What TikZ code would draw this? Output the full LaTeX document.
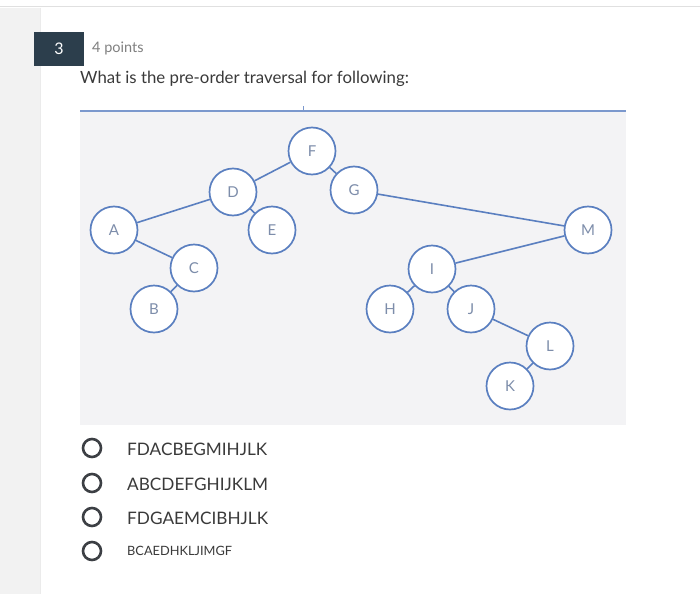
\documentclass[tikz,border=0pt]{standalone}
\usepackage{fontspec}
\setmainfont{Lato}
\newfontfamily\nodefont{Lato}
\definecolor{slate}{HTML}{2C3E4C}
\definecolor{nodeblue}{HTML}{5A7FC0}
\definecolor{lettercol}{HTML}{7D8DAA}
\definecolor{panel}{HTML}{F3F3F5}
\definecolor{txt}{HTML}{3A3A3A}
\definecolor{radio}{HTML}{3C3F44}
\begin{document}
\begin{tikzpicture}[x=1pt,y=-1pt,
  tnode/.style={circle,draw=nodeblue,line width=1.7pt,fill=white,minimum size=47pt,inner sep=0pt,font=\nodefont\fontsize{15}{15}\selectfont,text=lettercol},
  tedge/.style={draw=nodeblue,line width=1.6pt},
  radiobtn/.style={circle,draw=radio,line width=2.6pt,minimum size=18pt,inner sep=0pt},
  opt/.style={anchor=west,text=txt,inner sep=0pt}]
\useasboundingbox (0,0) rectangle (700,594);
\fill[white] (0,0) rectangle (700,594);
% left strip and top rule
\fill[black!5] (0,8) rectangle (40,594);
\draw[black!12,line width=1pt] (0,7) -- (700,7);
\draw[black!8,line width=0.6pt] (40,8) -- (40,594);
% question number
\node[fill=slate,minimum width=50pt,minimum height=34pt,inner sep=0pt,text=white,font=\fontsize{16}{16}\selectfont] (num) at (59,49) {3};
\node[anchor=west,inner sep=0pt,text=black!50,font=\fontsize{14.5}{14.5}\selectfont] (pts) at (92,48) {4 points};
\node[anchor=west,inner sep=0pt,text=txt,font=\fontsize{16.8}{16.8}\selectfont] (q) at (80,79) {What is the pre-order traversal for following:};
% panel
\fill[panel] (80,111) rectangle (626,425);
\draw[nodeblue!80,line width=1.6pt] (80,111) -- (626,111);
\draw[nodeblue!80,line width=1pt] (303,106) -- (303,111);
% nodes
\node[tnode] (F) at (312,151) {F};
\node[tnode] (D) at (233,192) {D};
\node[tnode] (G) at (354,190) {G};
\node[tnode] (A) at (114,230) {A};
\node[tnode] (E) at (272,230) {E};
\node[tnode] (M) at (588,230) {M};
\node[tnode] (C) at (194,268) {C};
\node[tnode] (I) at (432,269) {I};
\node[tnode] (B) at (154,309) {B};
\node[tnode] (H) at (390,309) {H};
\node[tnode] (J) at (471,309) {J};
\node[tnode] (L) at (550,346) {L};
\node[tnode] (K) at (510,386) {K};
\draw[tedge] (F) -- (D);
\draw[tedge] (F) -- (G);
\draw[tedge] (D) -- (A);
\draw[tedge] (D) -- (E);
\draw[tedge] (A) -- (C);
\draw[tedge] (C) -- (B);
\draw[tedge] (G) -- (M);
\draw[tedge] (M) -- (I);
\draw[tedge] (I) -- (H);
\draw[tedge] (I) -- (J);
\draw[tedge] (J) -- (L);
\draw[tedge] (L) -- (K);
% options
\node[radiobtn] (r1) at (92,448) {};
\node[radiobtn] (r2) at (92,483) {};
\node[radiobtn] (r3) at (92,517) {};
\node[radiobtn] (r4) at (92,551) {};
\node[opt,font=\fontsize{17.2}{17.2}\selectfont] (o1) at (127,449) {FDACBEGMIHJLK};
\node[opt,font=\fontsize{17.2}{17.2}\selectfont] (o2) at (127,484) {ABCDEFGHIJKLM};
\node[opt,font=\fontsize{17.2}{17.2}\selectfont] (o3) at (127,518) {FDGAEMCIBHJLK};
\node[opt,font=\fontsize{12.8}{12.8}\selectfont] (o4) at (127,551) {BCAEDHKLJIMGF};
\end{tikzpicture}
\end{document}
